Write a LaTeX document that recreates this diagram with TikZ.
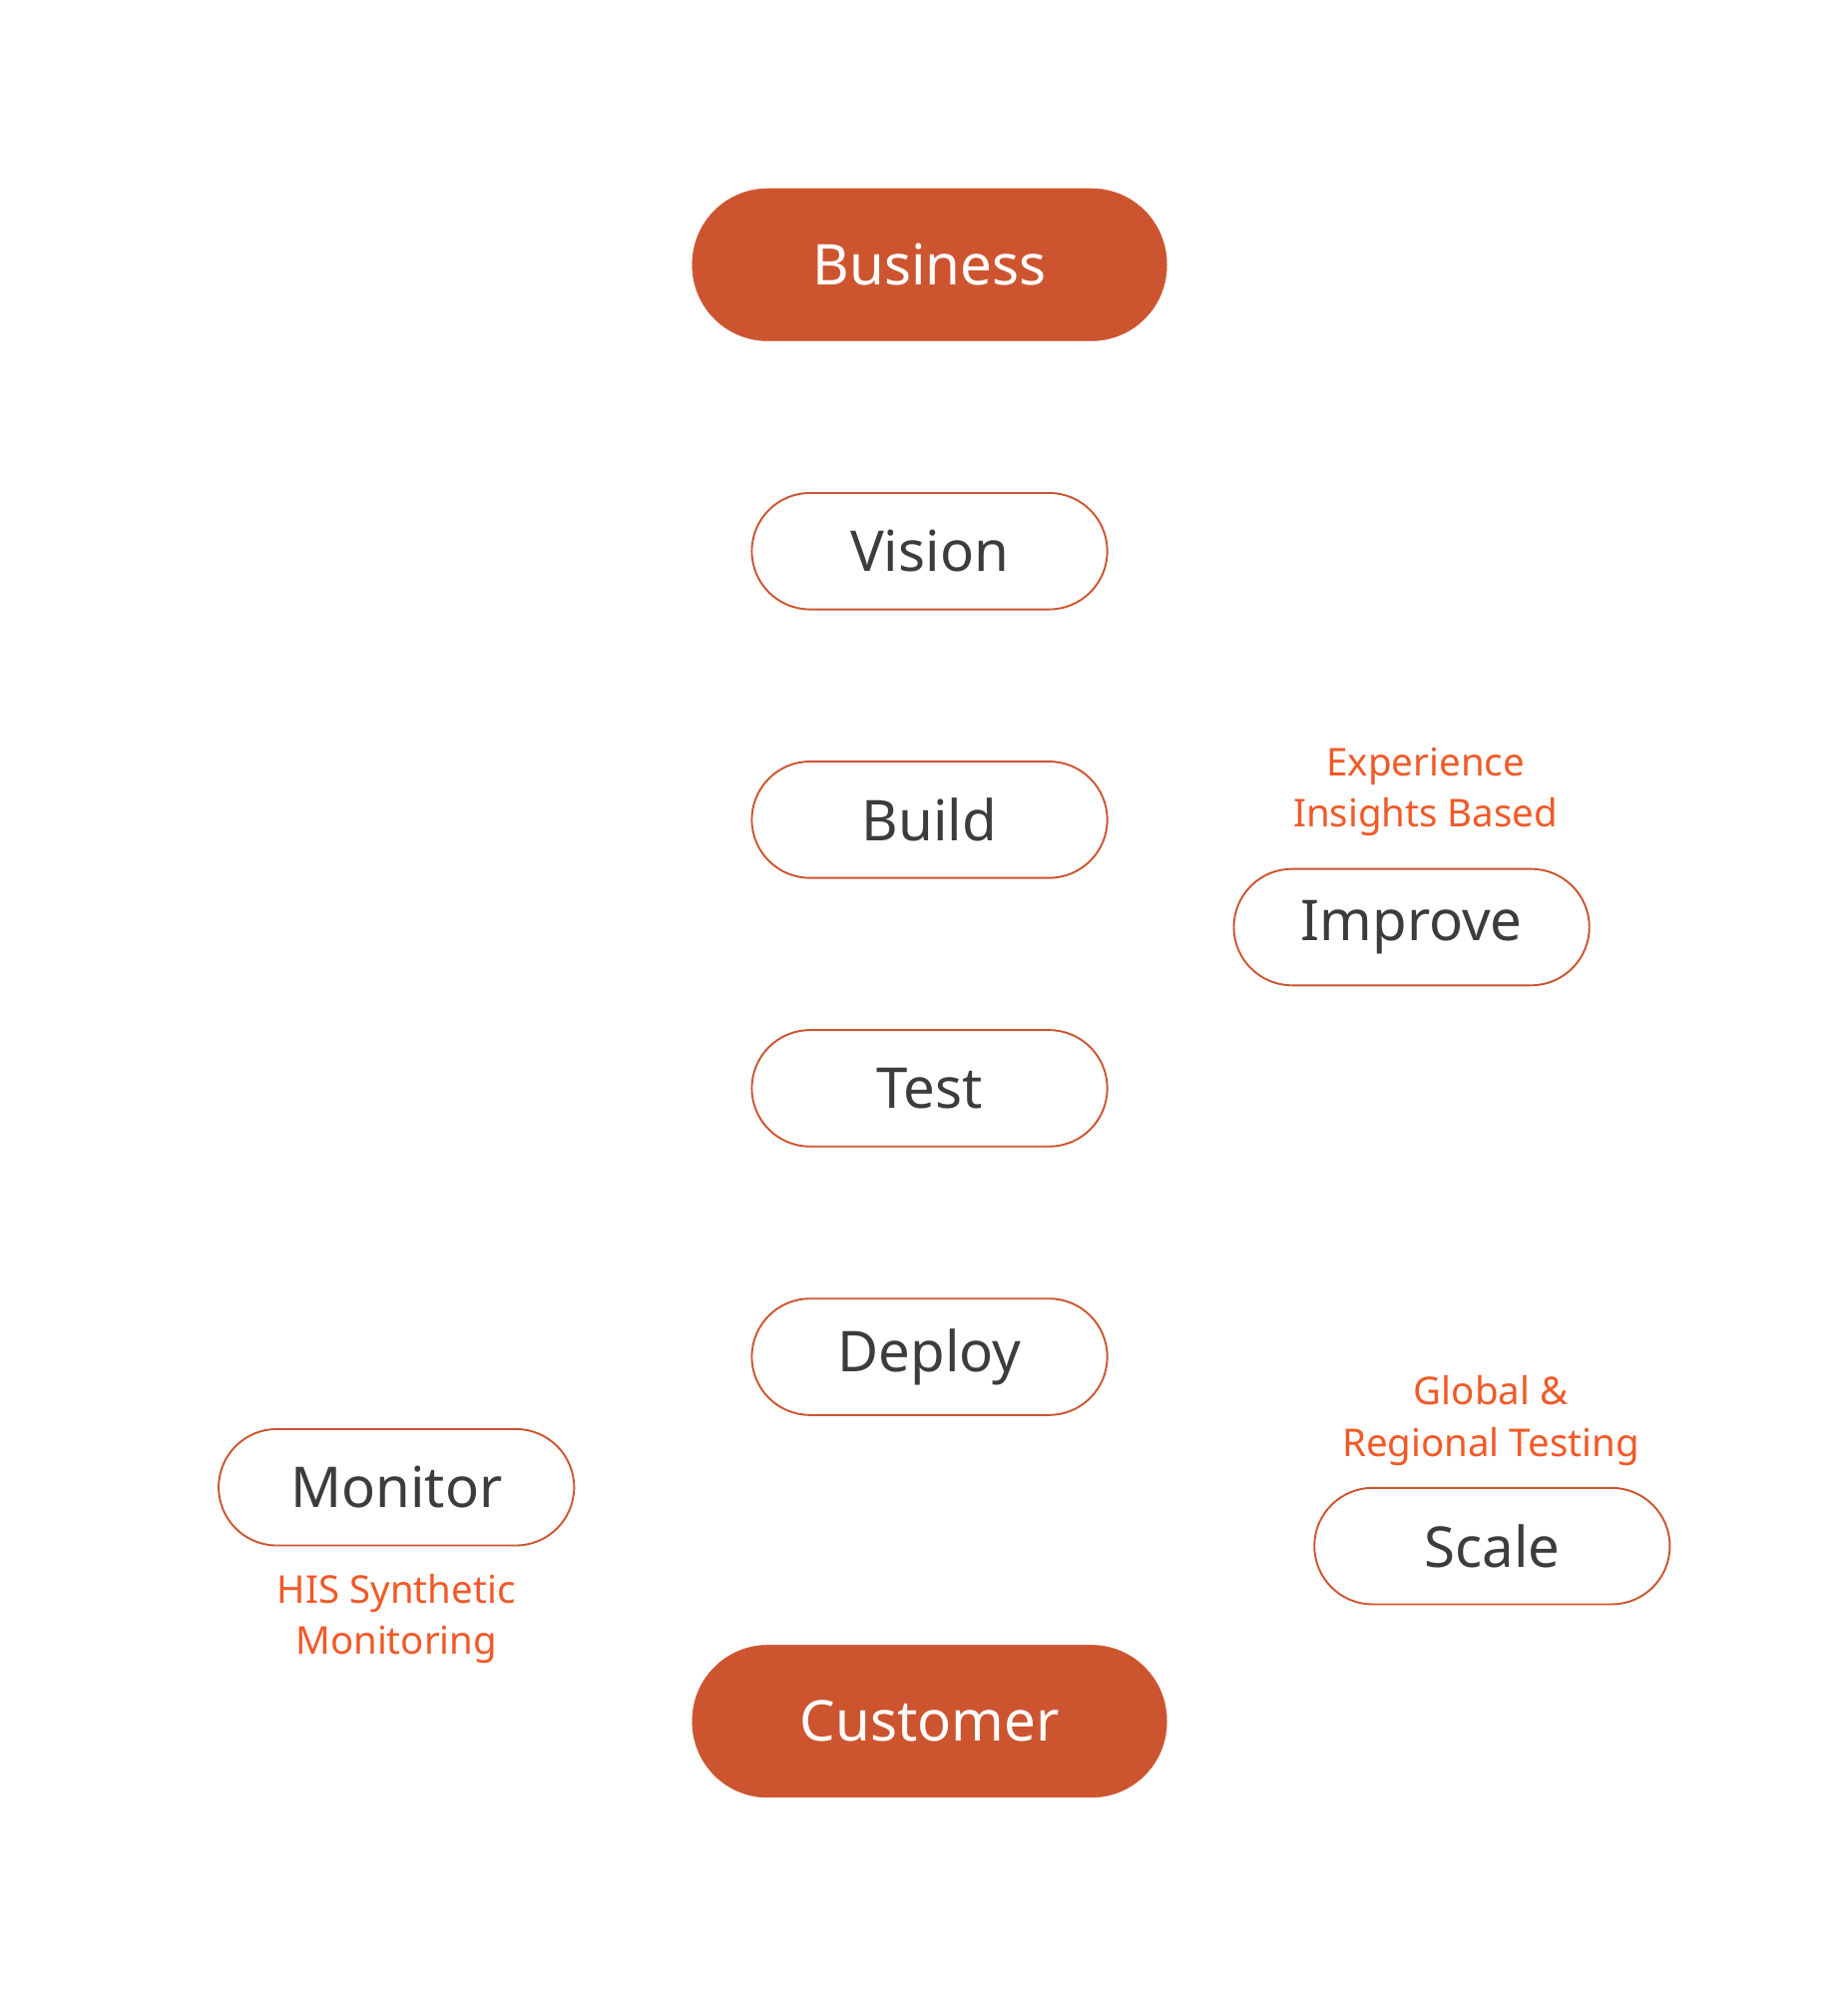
\documentclass[tikz,border=0pt]{standalone}
\usepackage{fontspec}
\setmainfont{Noto Sans}
\definecolor{rust}{HTML}{CC5530}
\definecolor{lab}{HTML}{F05A28}
\definecolor{txt}{HTML}{3C3C3C}
\begin{document}
\begin{tikzpicture}[x=1pt,y=-1pt,
  pill/.style={draw=rust,line width=1.5pt,rounded corners=45.5pt,minimum width=278pt,minimum height=91pt,text=txt,font=\fontsize{44}{50}\selectfont},
  big/.style={fill=rust,draw=rust,rounded corners=59pt,minimum width=371pt,minimum height=119pt,text=white,font=\fontsize{44}{50}\selectfont},
  lbl/.style={text=lab,align=center,font=\bfseries\fontsize{30}{40}\selectfont}]
\useasboundingbox (0,0) rectangle (1445,1571);
\node[big] (business) at (727,207) {Business};
\node[pill] (vision) at (727,431) {Vision};
\node[pill] (build) at (727,641) {Build};
\node[pill] (test) at (727,851) {Test};
\node[pill] (deploy) at (727,1061) {Deploy};
\node[pill] (improve) at (1104,725) {Improve};
\node[pill] (monitor) at (310,1163) {Monitor};
\node[pill] (scale) at (1167,1209) {Scale};
\node[big] (customer) at (727,1346) {Customer};
\node[lbl] (limp) at (1115,619) {Experience\\Insights Based};
\node[lbl] (lmon) at (310,1266) {HIS Synthetic\\Monitoring};
\node[lbl] (lsc) at (1166,1111) {Global \&\\Regional Testing};
\end{tikzpicture}
\end{document}
